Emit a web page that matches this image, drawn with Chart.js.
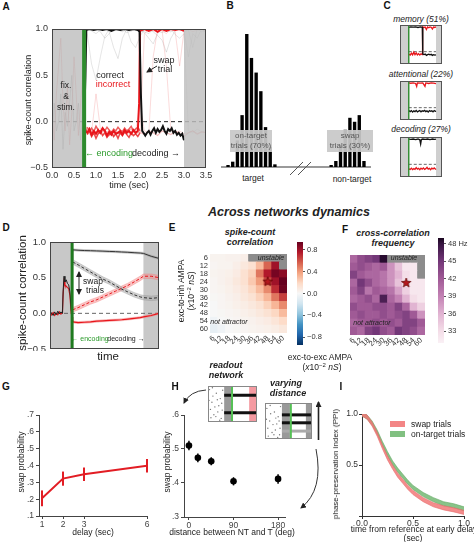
<!DOCTYPE html>
<html>
<head>
<meta charset="utf-8">
<script src="https://cdn.jsdelivr.net/npm/chart.js@4.4.1/dist/chart.umd.min.js"></script>
<style>
html, body { margin: 0; padding: 0; background: #fff; }
#fig { position: relative; width: 474px; height: 542px; overflow: hidden; background: #fff; }
#fig canvas { position: absolute; }
.t { position: absolute; white-space: nowrap; font-family: "Liberation Sans", Arial, sans-serif; font-size: 9px; color: #222; line-height: 1; }
.lt { font-weight: bold; font-size: 10px; color: #111; }
.it { font-style: italic; }
.bi { font-weight: bold; font-style: italic; }
.s8 { font-size: 8.5px; }
.s75 { font-size: 8px; }
.s7 { font-size: 7px; }
.big { font-size: 11.5px; }
.title { font-weight: bold; font-style: italic; font-size: 12.5px; }
.red { color: #e8151b; }
.green { color: #2a9a2a; }
.sw { position: absolute; }
.box { position: absolute; background: rgba(200,200,200,0.93); font-family: "Liberation Sans", Arial, sans-serif; font-size: 8px; color: #555; text-align: center; line-height: 10px; }
svg { position: absolute; left: 0; top: 0; }
</style>
</head>
<body>
<div id="fig"></div>
<script>
// ---------- data ----------
// A: single-trial spike-count correlation
const shadeA = [[0, 0.73], [3.0, 3.5]];
const cueA = 0.73;
const swapBlack = [[0.73,0.0],[0.76,0.5],[0.78,0.99],[0.85,1.0],[0.95,0.99],[1.05,1.0],[1.15,0.99],[1.25,1.0],[1.35,0.98],[1.45,1.0],[1.55,0.99],[1.65,1.0],[1.75,0.99],[1.85,1.0],[1.95,0.99],[1.99,0.97],[2.02,0.3],[2.05,-0.1],[2.08,-0.12],[2.12,-0.15],[2.16,-0.12],[2.2,-0.1],[2.24,-0.14],[2.28,-0.1],[2.32,-0.07],[2.36,-0.12],[2.4,-0.08],[2.44,-0.11],[2.48,-0.09],[2.52,-0.05],[2.56,-0.1],[2.6,-0.13],[2.64,-0.08],[2.68,-0.1],[2.72,-0.07],[2.76,-0.12],[2.8,-0.1],[2.84,-0.14],[2.88,-0.12],[2.92,-0.15],[2.96,-0.13],[3.0,-0.2]];
const incorrectRed = [[0.73,0.0],[0.77,-0.1],[0.8,-0.12],[0.85,-0.08],[0.9,-0.14],[0.95,-0.1],[1.0,-0.13],[1.05,-0.09],[1.1,-0.12],[1.15,-0.07],[1.2,-0.1],[1.25,-0.15],[1.3,-0.11],[1.35,-0.14],[1.4,-0.1],[1.45,-0.13],[1.5,-0.12],[1.55,-0.1],[1.6,-0.14],[1.65,-0.09],[1.7,-0.12],[1.75,-0.1],[1.8,-0.13],[1.85,-0.09],[1.9,-0.12],[1.95,-0.1],[1.98,0.2],[2.0,0.98],[2.1,1.0],[2.2,0.98],[2.3,1.0],[2.4,0.97],[2.5,1.0],[2.6,0.98],[2.7,1.0],[2.8,0.99],[2.9,1.0],[3.0,0.98]];
const tFaintA = [0.8,0.9,1.0,1.1,1.2,1.3,1.4,1.5,1.6,1.7,1.8,1.9,2.0,2.1,2.2,2.3,2.4,2.5,2.6,2.7,2.8,2.9,3.0,3.1,3.2,3.3,3.4,3.5];
const grayTrace1 = [1.0,0.98,0.95,0.99,1.0,0.97,0.8,0.68,0.9,1.0,0.98,1.0,0.99,0.96,0.9,0.84,0.95,1.0,0.98,0.97,1.0,0.99,0.98,0.7,0.95,0.9,1.0,0.96];
const grayTrace2 = [0.99,1.0,1.0,0.97,0.9,0.95,1.0,0.99,0.97,1.0,0.86,0.8,0.92,1.0,0.99,0.97,0.93,0.88,0.75,0.9,0.98,1.0,0.97,0.99,0.8,1.0,0.97,0.99];
const grayTrace3 = [0.95,0.62,0.45,0.7,0.92,1.0,0.98,0.99,1.0,0.96,0.98,1.0,0.99,0.97,0.95,1.0,0.98,0.96,0.99,1.0,0.94,0.9,0.95,-0.1,-0.12,-0.08,-0.11,-0.1];
const pinkTrace1 = [-0.1,-0.12,0.3,-0.08,-0.12,-0.1,-0.14,-0.1,-0.12,-0.11,-0.13,-0.1,-0.12,0.95,1.0,0.98,0.97,0.99,0.6,-0.1,-0.12,-0.1,-0.13,-0.12,-0.1,-0.14,-0.11,-0.12];
const pinkTrace2 = [-0.12,-0.15,-0.1,-0.13,-0.1,-0.12,-0.16,-0.11,-0.09,-0.14,-0.12,-0.1,0.2,-0.1,-0.12,0.7,1.0,0.98,0.95,1.0,0.97,0.6,0.98,1.0,0.97,0.99,1.0,0.98];
const pinkTrace3 = [-0.08,-0.1,-0.14,-0.12,-0.09,-0.15,-0.1,-0.12,-0.14,-0.1,-0.08,-0.13,-0.11,-0.14,-0.1,-0.12,-0.15,-0.1,-0.12,-0.14,-0.1,-0.13,-0.16,-0.12,-0.1,-0.13,-0.11,-0.12];
const tBandA = [0.8,0.85,0.9,0.95,1.0,1.05,1.1,1.15,1.2,1.25,1.3,1.35,1.4,1.45,1.5,1.55,1.6,1.65,1.7,1.75,1.8,1.85,1.9,1.95,2.0];
const redBand1 = [-0.14,-0.1,-0.16,-0.12,-0.18,-0.13,-0.1,-0.15,-0.12,-0.17,-0.14,-0.11,-0.16,-0.13,-0.18,-0.12,-0.15,-0.11,-0.14,-0.17,-0.12,-0.15,-0.13,-0.16,-0.12];
const redBand2 = [-0.06,-0.1,-0.07,-0.11,-0.05,-0.09,-0.12,-0.07,-0.1,-0.06,-0.09,-0.12,-0.08,-0.1,-0.06,-0.09,-0.11,-0.07,-0.1,-0.08,-0.05,-0.1,-0.08,-0.06,-0.1];
const tPreA = [0,0.05,0.1,0.15,0.2,0.25,0.3,0.35,0.4,0.45,0.5,0.55,0.6,0.65,0.7,0.75];
const prePink = [0.1,-0.2,0.3,0.6,0.9,0.2,-0.1,0.4,-0.25,0.1,0.7,0.3,-0.15,0.2,0.5,0.0];
const preGray = [-0.2,0.2,-0.1,0.0,0.3,-0.3,0.1,-0.05,0.2,0.5,-0.1,0.0,0.2,-0.2,0.1,0.0];

// B: histogram of reported positions
const targetBins = [1.5,4,20,39,100,82,71,57,30,15,2];
const swapBins = [1.5,4.5,16,28,37,34,39,4.5];

// C: example trial types
const memBlack = [[0.73,0.98],[0.9,1.0],[1.1,0.99],[1.3,1.0],[1.5,0.98],[1.7,1.0],[1.86,0.99],[1.9,-0.1],[2.0,-0.12],[2.1,-0.1],[2.2,-0.15],[2.3,-0.12],[2.4,-0.1],[2.5,-0.13],[2.6,-0.11],[2.7,-0.15],[2.8,-0.12],[2.9,-0.14],[3.0,-0.13]];
const memRed = [[0.73,-0.1],[0.85,-0.14],[0.95,-0.06],[1.05,-0.13],[1.15,-0.02],[1.25,-0.12],[1.35,-0.05],[1.45,-0.13],[1.55,-0.08],[1.65,-0.14],[1.75,-0.09],[1.86,-0.12],[1.88,1.0],[2.0,0.98],[2.1,1.0],[2.2,0.9],[2.3,1.0],[2.4,0.97],[2.5,1.0],[2.6,0.99],[2.7,0.92],[2.8,1.0],[2.9,0.98],[3.0,1.0]];
const attRed = [[0.73,1.0],[0.9,0.99],[1.1,1.0],[1.3,0.98],[1.39,0.86],[1.45,1.0],[1.7,0.99],[1.9,1.0],[2.08,0.86],[2.15,1.0],[2.4,0.98],[2.6,1.0],[2.8,0.99],[3.0,0.97]];
const attBlack = [[0.73,-0.12],[0.85,-0.16],[0.95,-0.12],[1.05,-0.18],[1.15,-0.13],[1.25,-0.16],[1.35,-0.11],[1.45,-0.17],[1.55,-0.14],[1.65,-0.12],[1.75,-0.17],[1.85,-0.13],[1.95,-0.15],[2.05,-0.11],[2.15,-0.16],[2.25,-0.13],[2.35,-0.18],[2.45,-0.12],[2.55,-0.15],[2.65,-0.13],[2.75,-0.17],[2.85,-0.12],[2.95,-0.15],[3.0,-0.14]];
const decBlack = [[0.73,1.0],[0.9,0.99],[1.1,1.0],[1.3,0.98],[1.5,1.0],[1.65,0.97],[1.72,0.8],[1.78,0.98],[1.9,1.0],[2.1,0.99],[2.3,1.0],[2.5,0.98],[2.7,1.0],[2.9,0.99],[3.0,1.0]];
const decRed = [[0.73,-0.18],[0.85,-0.2],[0.95,-0.15],[1.05,-0.21],[1.15,-0.17],[1.25,-0.2],[1.35,-0.13],[1.45,-0.19],[1.55,-0.16],[1.65,-0.21],[1.75,-0.15],[1.85,-0.19],[1.95,-0.14],[2.05,-0.2],[2.15,-0.17],[2.25,-0.12],[2.35,-0.19],[2.45,-0.16],[2.55,-0.21],[2.65,-0.15],[2.75,-0.18],[2.85,-0.14],[2.95,-0.19],[3.0,-0.17]];

// D: trial-averaged correlations across networks
const shadeD = [[0, 0.71], [3.0, 3.5]];
const cueD = 0.71;
const dPreBlack = [[0,0.03],[0.05,0.0],[0.1,-0.03],[0.15,0.02],[0.2,-0.02],[0.25,0.03],[0.3,-0.01],[0.35,0.02],[0.4,0.0],[0.42,0.3],[0.45,0.52],[0.48,0.44],[0.52,0.47],[0.56,0.42],[0.6,0.4],[0.64,0.3],[0.68,0.05],[0.7,0.0],[0.72,0.75],[0.73,0.9]];
const dPreRed = [[0,0.02],[0.05,-0.02],[0.1,0.01],[0.15,-0.03],[0.2,0.0],[0.25,-0.02],[0.3,0.02],[0.35,-0.01],[0.4,0.01],[0.42,0.25],[0.45,0.45],[0.48,0.4],[0.52,0.38],[0.56,0.36],[0.6,0.35],[0.64,0.25],[0.68,0.0],[0.72,-0.05],[0.73,-0.12]];
const tD = [0.73,0.9,1.1,1.3,1.5,1.7,1.9,2.1,2.3,2.5,2.7,2.9,3.0,3.25,3.5];
const correctBlack = [0.89,0.885,0.88,0.878,0.875,0.872,0.868,0.865,0.86,0.856,0.85,0.845,0.84,0.8,0.77];
const swapBlackD = [0.72,0.68,0.63,0.58,0.53,0.48,0.44,0.39,0.34,0.3,0.26,0.23,0.22,0.21,0.22];
const swapRedD = [0.05,0.08,0.12,0.16,0.19,0.23,0.27,0.31,0.35,0.39,0.44,0.49,0.52,0.52,0.5];
const correctRed = [-0.12,-0.13,-0.125,-0.12,-0.11,-0.105,-0.1,-0.095,-0.09,-0.08,-0.07,-0.06,-0.05,-0.03,0.0];
const errCorrectD = 0.014;
const errSwapD = 0.032;

// E, F: parameter sweeps (rows: exc-to-inh, cols: exc-to-exc)
const gainLabels = [6,12,18,24,30,36,42,48,54,60];
const corrE = [
  [0.03,0.03,0.04,0.04,0.06,null,null,null,null,null],
  [0.02,0.03,0.03,0.06,0.1,0.15,0.3,0.55,0.8,null],
  [0.03,0.04,0.05,0.08,0.15,0.22,0.5,0.75,0.9,0.85],
  [0.02,0.04,0.06,0.1,0.15,0.25,0.4,0.62,0.8,0.95],
  [0.02,0.03,0.05,0.08,0.12,0.2,0.3,0.45,0.7,0.92],
  [0.01,0.02,0.04,0.06,0.1,0.14,0.22,0.32,0.5,0.65],
  [0.0,0.02,0.03,0.05,0.07,0.1,0.14,0.22,0.32,0.45],
  [0.0,0.01,0.02,0.03,0.05,0.07,0.1,0.14,0.2,0.3],
  [-0.04,0.0,0.01,0.02,0.03,0.04,0.06,0.08,0.12,0.18],
  [-0.08,-0.04,0.0,0.01,0.02,0.03,0.04,0.05,0.07,0.1]
];
const freqF = [
  [41,43,44,45,48.5,null,null,null,null,null],
  [42,43,42,41,42,38,35,32,32,null],
  [44,42,41,41,40,38,36,33,32,null],
  [41,45,43,41,40,38,35,33,32,32],
  [42,44,40,42,41,40,37,34,32,32],
  [41,42,43,41,47,41,39,36,33,32],
  [43,42,42,43,43,42,44,41,36,34],
  [42,43,42,42,43,42,43,44,42,38],
  [41,42,42,43,42,43,42,44,44,42],
  [42,41,44,45,43,42,45,44,43,41]
];
const starE = {x: 48, y: 24};
const starF = {x: 48, y: 24};
const rangeE = [-0.94, 0.94];
const rangeF = [31, 49];
const cbTicksE = [-0.8, -0.4, 0, 0.4, 0.8];
const cbTicksF = [33, 36, 39, 42, 45, 48];

// G: swap probability vs delay
const delaysG = [1, 2, 3, 6];
const swapG = [0.205, 0.322, 0.348, 0.398];
const swapErrG = [0.047, 0.042, 0.04, 0.04];
const yTicksG = [0.1, 0.2, 0.3, 0.4, 0.5, 0.6, 0.7];

// H: swap probability vs NT-T distance
const distH = [0, 18, 45, 90, 180];
const swapH = [0.51, 0.474, 0.464, 0.405, 0.412];
const swapErrH = [0.014, 0.013, 0.012, 0.012, 0.014];
const xTicksH = [0, 90, 180];
const yTicksH = [0.3, 0.4, 0.5, 0.6];
const inset1Dots = [[0.03,0.9],[0.08,0.55],[0.12,0.2],[0.05,0.35],[0.17,0.8],[0.22,0.45],[0.27,0.1],[0.25,0.65],[0.1,0.72],[0.2,0.28],[0.3,0.88],[0.14,0.42],[0.06,0.12],[0.28,0.52],[0.19,0.62],[0.09,0.95],[0.24,0.05],[0.02,0.6],[0.16,0.15],[0.29,0.33]];
const inset2Dots = [[0.04,0.85],[0.1,0.5],[0.15,0.18],[0.06,0.3],[0.2,0.75],[0.25,0.42],[0.31,0.12],[0.28,0.62],[0.12,0.7],[0.22,0.25],[0.33,0.9],[0.17,0.4],[0.07,0.08],[0.3,0.5],[0.23,0.58],[0.11,0.93],[0.27,0.04],[0.03,0.55],[0.19,0.12],[0.32,0.3]];

// I: phase-preservation index
const tI = [0,0.05,0.1,0.15,0.2,0.25,0.3,0.35,0.4,0.45,0.5,0.6,0.7,0.8,0.9,1.0];
const ppiSwap = [1.0,0.97,0.9,0.8,0.68,0.57,0.48,0.4,0.34,0.28,0.23,0.16,0.11,0.08,0.06,0.035];
const ppiTarget = [1.0,0.97,0.91,0.82,0.71,0.61,0.52,0.45,0.39,0.33,0.28,0.21,0.16,0.12,0.1,0.07];
const ppiErr = 0.02;

// ---------- setup ----------
Chart.defaults.font.family = '"Liberation Sans", Arial, sans-serif';
Chart.defaults.font.size = 9;
Chart.defaults.color = '#333';
Chart.defaults.animation = false;
Chart.defaults.responsive = false;
Chart.defaults.maintainAspectRatio = false;
Chart.defaults.events = [];
Chart.defaults.plugins.legend.display = false;
Chart.defaults.plugins.tooltip.enabled = false;
Chart.defaults.elements.point.radius = 0;
Chart.defaults.elements.line.tension = 0;

const fig = document.getElementById('fig');
const pairs = a => a.map(([x, y]) => ({x, y}));
const zip = (xs, ys) => xs.map((x, i) => ({x, y: ys[i]}));
const minus = s => String(s).replace('-', '\u2212');
const zeroPad = s => { s.paddingLeft = 0; s.paddingRight = 0; s.paddingTop = 0; s.paddingBottom = 0; };

function trace(data, color, width, dash) {
  return {data, borderColor: color, borderWidth: width, borderDash: dash || [], pointRadius: 0, fill: false};
}
function band(xs, mean, err, fillColor, edgeColor) {
  return [
    {data: zip(xs, mean.map(v => v - err)), borderColor: edgeColor, borderWidth: 0.6, pointRadius: 0, fill: false},
    {data: zip(xs, mean.map(v => v + err)), borderColor: edgeColor, borderWidth: 0.6, pointRadius: 0, fill: '-1', backgroundColor: fillColor}
  ];
}

// decorations drawn through the chart's scales
function decor(o) {
  const drawSpans = ch => {
    const {ctx, chartArea: a, scales: {x}} = ch;
    (o.spans || []).forEach(([x0, x1, c]) => {
      const p0 = Math.max(a.left, x.getPixelForValue(x0)), p1 = Math.min(a.right, x.getPixelForValue(x1));
      ctx.fillStyle = c;
      ctx.fillRect(p0, a.top, p1 - p0, a.height);
    });
  };
  return {
    id: 'decor',
    beforeDatasetsDraw(ch) {
      const {ctx, chartArea: a, scales: {x, y}} = ch;
      ctx.save();
      if (o.bg) { ctx.fillStyle = o.bg; ctx.fillRect(a.left, a.top, a.width, a.height); }
      if (!o.spansOnTop) drawSpans(ch);
      (o.hlines || []).forEach(([v, x0, x1, c, w, d]) => {
        const py = y.getPixelForValue(v);
        ctx.beginPath(); ctx.setLineDash(d || []); ctx.strokeStyle = c; ctx.lineWidth = w;
        ctx.moveTo(Math.max(a.left, x.getPixelForValue(x0)), py);
        ctx.lineTo(Math.min(a.right, x.getPixelForValue(x1)), py);
        ctx.stroke();
      });
      ctx.restore();
    },
    afterDatasetsDraw(ch) {
      const {ctx, chartArea: a, scales: {x, y}} = ch;
      ctx.save();
      if (o.spansOnTop) drawSpans(ch);
      (o.vlines || []).forEach(([v, c, w]) => {
        const p = x.getPixelForValue(v);
        ctx.fillStyle = c; ctx.fillRect(p - w / 2, a.top, w, a.height);
      });
      if (o.err) {
        const e = o.err;
        ctx.strokeStyle = e.color; ctx.lineWidth = e.width;
        e.x.forEach((xv, i) => {
          const px = x.getPixelForValue(xv);
          ctx.beginPath();
          ctx.moveTo(px, y.getPixelForValue(e.y[i] - e.e[i]));
          ctx.lineTo(px, y.getPixelForValue(e.y[i] + e.e[i]));
          ctx.stroke();
        });
      }
      if (o.frame) {
        ctx.strokeStyle = o.frame; ctx.lineWidth = 1;
        ctx.strokeRect(a.left + 0.5, a.top + 0.5, a.width - 1, a.height - 1);
      }
      ctx.restore();
    }
  };
}

function makeChart(g, cfg) {
  const yw = g.yw || 0, xh = g.xh || 0, pt = g.pt || 0, pr = g.pr || 0, pb = g.pb || 0, pl = g.pl || 0;
  const left = g.yRight ? g.L - pl : g.L - yw - pl;
  const right = g.yRight ? g.R + yw + pr : g.R + pr;
  const top = g.T - pt, bottom = g.B + xh + pb;
  const cv = document.createElement('canvas');
  const w = right - left, h = bottom - top;
  cv.width = w; cv.height = h;
  cv.style.left = left + 'px'; cv.style.top = top + 'px';
  cv.style.width = w + 'px'; cv.style.height = h + 'px';
  fig.appendChild(cv);
  cfg.options.layout = {padding: {left: pl, right: pr, top: pt, bottom: pb}};
  const sx = cfg.options.scales.x, sy = cfg.options.scales.y;
  if (sx.display !== false) sx.afterFit = s => { s.height = xh; zeroPad(s); };
  if (sy.display !== false) sy.afterFit = s => { s.width = yw; zeroPad(s); };
  return new Chart(cv, cfg);
}

const noGrid = {display: false, drawTicks: false};
const hidden = {display: false};

// ---------- A ----------
makeChart({L: 52, T: 29, R: 206, B: 168, yw: 44, xh: 14, pt: 8, pr: 8}, {
  type: 'line',
  data: {datasets: [
    trace(pairs(swapBlack), '#111', 2),
    trace(pairs(incorrectRed), '#e8151b', 2),
    trace(zip(tBandA, redBand1), 'rgba(230,25,25,0.8)', 1.5),
    trace(zip(tBandA, redBand2), 'rgba(230,25,25,0.7)', 1.5),
    trace(zip(tFaintA, pinkTrace1), 'rgba(235,90,90,0.22)', 1),
    trace(zip(tFaintA, pinkTrace2), 'rgba(235,90,90,0.22)', 1),
    trace(zip(tFaintA, pinkTrace3), 'rgba(235,90,90,0.4)', 1.2),
    trace(zip(tFaintA, grayTrace1), 'rgba(130,130,130,0.22)', 1),
    trace(zip(tFaintA, grayTrace2), 'rgba(130,130,130,0.22)', 1),
    trace(zip(tFaintA, grayTrace3), 'rgba(130,130,130,0.2)', 1),
    trace(zip(tPreA, prePink), 'rgba(235,90,90,0.45)', 1),
    trace(zip(tPreA, preGray), 'rgba(120,120,120,0.45)', 1)
  ]},
  options: {scales: {
    x: {type: 'linear', min: 0, max: 3.5, grid: noGrid, border: hidden,
        ticks: {stepSize: 0.5, padding: 2, font: {size: 9}, callback: v => v.toFixed(1)}},
    y: {min: -0.5, max: 1.0, grid: noGrid, border: hidden,
        ticks: {stepSize: 0.5, padding: 4, font: {size: 9}, callback: v => minus(v.toFixed(1))}}
  }},
  plugins: [decor({spans: shadeA.map(s => [s[0], s[1], 'rgba(190,190,190,0.82)']), spansOnTop: true,
    hlines: [[0, 0, 3.5, '#222', 1, [4, 3]]], vlines: [[cueA, '#2e8b2e', 4]], frame: '#444'})]
});

// ---------- B ----------
const slotsB = new Array(32).fill(null);
targetBins.forEach((v, i) => { slotsB[1 + i] = v; });
swapBins.forEach((v, i) => { slotsB[23 + i] = v; });
makeChart({L: 221, T: 34, R: 371, B: 167, xh: 2}, {
  type: 'bar',
  data: {labels: slotsB.map(() => ''), datasets: [{data: slotsB, backgroundColor: '#000', barPercentage: 0.72, categoryPercentage: 1}]},
  options: {scales: {
    x: {grid: noGrid, ticks: {display: false}, border: {display: true, color: '#9a9a9a', width: 2}},
    y: {display: false, min: 0, max: 100}
  }}
});

// ---------- C ----------
const miniC = [
  {T: 25, B: 64, black: memBlack, red: memRed},
  {T: 81, B: 120, black: attBlack, red: attRed},
  {T: 137, B: 177, black: decBlack, red: decRed}
];
miniC.forEach(m => {
  makeChart({L: 400, T: m.T, R: 442, B: m.B, pt: 1, pb: 1, pl: 1, pr: 1}, {
    type: 'line',
    data: {datasets: [trace(pairs(m.black), '#111', 1.3), trace(pairs(m.red), '#e8151b', 1.3)]},
    options: {scales: {x: {type: 'linear', display: false, min: 0, max: 3.5}, y: {display: false, min: -0.5, max: 1.08}}},
    plugins: [decor({spans: shadeA.map(s => [s[0], s[1], '#cfcfcf']), hlines: [[0, 0.73, 3.0, '#444', 0.8, [3, 2]]],
      vlines: [[cueA, '#2e8b2e', 1.4]], frame: '#555'})]
  });
});

// ---------- D ----------
makeChart({L: 50, T: 242, R: 159, B: 349, yw: 40, pt: 8, pr: 4, pb: 2}, {
  type: 'line',
  data: {datasets: [
    trace(zip(tD, correctBlack), '#333', 1),
    trace(zip(tD, swapBlackD), '#333', 1, [3, 2]),
    trace(zip(tD, swapRedD), '#e8151b', 1, [3, 2]),
    trace(zip(tD, correctRed), '#e8151b', 1.2),
    trace(pairs(dPreBlack), '#222', 1),
    trace(pairs(dPreRed), '#d8141a', 1.2),
    ...band(tD, correctBlack, errCorrectD, 'rgba(170,170,170,0.55)', 'rgba(150,150,150,0.6)'),
    ...band(tD, swapBlackD, errSwapD, 'rgba(170,170,170,0.55)', 'rgba(150,150,150,0.6)'),
    ...band(tD, swapRedD, errSwapD, 'rgba(245,140,140,0.5)', 'rgba(240,120,120,0.6)'),
    ...band(tD, correctRed, errCorrectD, 'rgba(245,140,140,0.5)', 'rgba(240,120,120,0.6)')
  ]},
  options: {scales: {
    x: {type: 'linear', display: false, min: 0, max: 3.5},
    y: {min: -0.5, max: 1.0, grid: noGrid, border: hidden,
        ticks: {stepSize: 0.5, padding: 4, font: {size: 9.5}, callback: v => minus(v.toFixed(1))}}
  }},
  plugins: [decor({spans: shadeD.map(s => [s[0], s[1], '#c8c8c8']), hlines: [[0, 0, 3.5, '#666', 1, [4, 3]]],
    vlines: [[cueD, '#1f7a1f', 3]], frame: '#444'})]
});

// ---------- colour maps ----------
const rdbu = [[0,[5,48,97]],[0.1,[33,102,172]],[0.2,[67,147,195]],[0.3,[146,197,222]],[0.4,[209,229,240]],[0.5,[247,247,247]],[0.6,[253,219,199]],[0.7,[244,165,130]],[0.8,[214,96,77]],[0.9,[178,24,43]],[1,[103,0,31]]];
const purp = [[0,[250,240,245]],[0.111,[244,222,232]],[0.278,[225,180,210]],[0.444,[195,130,180]],[0.611,[160,90,150]],[0.778,[115,55,120]],[0.944,[55,20,65]],[1,[25,5,30]]];
function colorAt(stops, t) {
  t = Math.max(0, Math.min(1, t));
  for (let i = 1; i < stops.length; i++) {
    if (t <= stops[i][0]) {
      const [t0, c0] = stops[i - 1], [t1, c1] = stops[i];
      const f = (t - t0) / (t1 - t0);
      return 'rgb(' + c0.map((c, k) => Math.round(c + f * (c1[k] - c))).join(',') + ')';
    }
  }
  return 'rgb(' + stops[stops.length - 1][1].join(',') + ')';
}
const colorE = v => colorAt(rdbu, (v - rangeE[0]) / (rangeE[1] - rangeE[0]));
const colorF = v => colorAt(purp, (v - rangeF[0]) / (rangeF[1] - rangeF[0]));

function starImage(r) {
  const c = document.createElement('canvas');
  c.width = c.height = 2 * r + 2;
  const g = c.getContext('2d');
  g.beginPath();
  for (let i = 0; i < 10; i++) {
    const ang = -Math.PI / 2 + i * Math.PI / 5, rr = i % 2 ? r * 0.42 : r;
    g.lineTo(r + 1 + rr * Math.cos(ang), r + 1 + rr * Math.sin(ang));
  }
  g.closePath();
  g.fillStyle = '#b3181f'; g.fill();
  g.strokeStyle = '#5a0000'; g.lineWidth = 0.7; g.stroke();
  return c;
}
const star = starImage(5);

function heatConfig(mat, colorFn, starPos, showY) {
  const rows = mat.map(row => ({
    data: row.map(() => 1),
    backgroundColor: row.map(v => v === null ? '#8c8c8c' : colorFn(v)),
    borderWidth: 0, barPercentage: 1, categoryPercentage: 1
  })).reverse();
  const starSet = {type: 'line', showLine: false, order: -1, pointStyle: star, pointRadius: 5,
    data: [{x: starPos.x, y: 9.5 - gainLabels.indexOf(starPos.y)}]};
  return {
    type: 'bar',
    data: {labels: gainLabels, datasets: [starSet, ...rows]},
    options: {scales: {
      x: {stacked: true, grid: noGrid, border: hidden,
          ticks: {font: {size: 7.5}, padding: 1, minRotation: 45, maxRotation: 45, autoSkip: false}},
      y: showY ? {stacked: true, min: 0, max: 10, grid: noGrid, border: hidden,
          afterBuildTicks: s => { s.ticks = gainLabels.map((_, i) => ({value: i + 0.5})); },
          ticks: {font: {size: 7.5}, padding: 2, autoSkip: false, callback: (v, i) => gainLabels[gainLabels.length - 1 - i]}}
        : {display: false, stacked: true, min: 0, max: 10}
    }}
  };
}

// ---------- E, F ----------
makeChart({L: 210, T: 253, R: 291, B: 333, yw: 16, xh: 16, pt: 5, pr: 2}, heatConfig(corrE, colorE, starE, true));
makeChart({L: 345, T: 253, R: 429, B: 335, xh: 16, pt: 4, pr: 2, pl: 1}, heatConfig(freqF, colorF, starF, false));

function colorbar(g, stops, range, ticks, fmt) {
  makeChart(g, {
    type: 'bar',
    data: {labels: [''], datasets: [{
      data: [[range[0], range[1]]], borderWidth: 0, barPercentage: 1, categoryPercentage: 1,
      backgroundColor: ctx => {
        const ch = ctx.chart, a = ch.chartArea;
        if (!a) return '#ccc';
        const ys = ch.scales.y;
        const gr = ch.ctx.createLinearGradient(0, ys.getPixelForValue(range[0]), 0, ys.getPixelForValue(range[1]));
        stops.forEach(([t, c]) => gr.addColorStop(t, 'rgb(' + c.join(',') + ')'));
        return gr;
      }
    }]},
    options: {scales: {
      x: {display: false},
      y: {position: 'right', min: range[0], max: range[1], border: hidden,
          grid: {display: true, drawOnChartArea: false, drawTicks: true, tickLength: 2, color: '#555'},
          afterBuildTicks: s => { s.ticks = ticks.map(v => ({value: v})); },
          ticks: {font: {size: 7.5}, padding: 2, callback: fmt}}
    }}
  });
}
colorbar({L: 297, T: 242, R: 303, B: 345, yw: 24, pt: 4, pb: 4, yRight: true}, rdbu, rangeE, cbTicksE, v => minus(v.toFixed(1)));
colorbar({L: 438, T: 238, R: 444, B: 343, yw: 30, pt: 4, pb: 4, yRight: true}, purp, rangeF, cbTicksF, v => v === 48 ? '48 Hz' : String(v));

// ---------- G ----------
const tickGrid = {display: true, drawOnChartArea: false, drawTicks: true, tickLength: 3, color: '#444'};
makeChart({L: 39, T: 415, R: 147, B: 516, yw: 23, xh: 12, pt: 6, pr: 8}, {
  type: 'line',
  data: {datasets: [trace(zip(delaysG, swapG), '#e21d24', 2)]},
  options: {scales: {
    x: {type: 'linear', min: 0.857, max: 6, grid: tickGrid, border: {color: '#444'},
        afterBuildTicks: s => { s.ticks = delaysG.map(v => ({value: v})); },
        ticks: {font: {size: 8.5}, color: '#444', padding: 1}},
    y: {min: 0.1, max: 0.7, grid: tickGrid, border: {color: '#444'},
        afterBuildTicks: s => { s.ticks = yTicksG.map(v => ({value: v})); },
        ticks: {font: {size: 8.5}, color: '#444', padding: 2, callback: v => '.' + Math.round(v * 10)}}
  }},
  plugins: [decor({err: {x: delaysG, y: swapG, e: swapErrG, color: '#e21d24', width: 2}})]
});

// ---------- H ----------
makeChart({L: 184, T: 415, R: 285, B: 517, yw: 22, xh: 12, pt: 6, pr: 6}, {
  type: 'scatter',
  data: {datasets: [{data: zip(distH, swapH), backgroundColor: '#000', pointRadius: 3.3, borderWidth: 0}]},
  options: {scales: {
    x: {type: 'linear', min: -10, max: 194, grid: tickGrid, border: {color: '#444'},
        afterBuildTicks: s => { s.ticks = xTicksH.map(v => ({value: v})); },
        ticks: {font: {size: 8.5}, color: '#444', padding: 1}},
    y: {min: 0.3, max: 0.6, grid: tickGrid, border: {color: '#444'},
        afterBuildTicks: s => { s.ticks = yTicksH.map(v => ({value: v})); },
        ticks: {font: {size: 8.5}, color: '#444', padding: 2, callback: v => '.' + Math.round(v * 10)}}
  }},
  plugins: [decor({err: {x: distH, y: swapH, e: swapErrH, color: '#000', width: 1.5}})]
});

// H insets
function inset(g, dots, spans, cue, bumps) {
  makeChart(Object.assign({pt: 1, pb: 1, pl: 1, pr: 1}, g), {
    type: 'line',
    data: {datasets: [
      ...bumps.map(([y, c]) => trace([{x: spans[0][0], y}, {x: 1, y}], c, 3)),
      {type: 'scatter', data: pairs(dots), backgroundColor: '#777', pointRadius: 0.7, borderWidth: 0}
    ]},
    options: {scales: {x: {type: 'linear', display: false, min: 0, max: 1}, y: {display: false, min: 0, max: 1}}},
    plugins: [decor({bg: '#fff', spans, vlines: [[cue, '#55c055', 2]], frame: '#888'})]
  });
}
inset({L: 205, T: 383, R: 260, B: 425}, inset1Dots,
  [[0.33, 0.47, '#999'], [0.84, 1.0, 'rgba(240,120,130,0.75)']], 0.49, [[0.74, '#111'], [0.26, '#111']]);
inset({L: 262, T: 400, R: 315, B: 442}, inset2Dots,
  [[0.36, 0.53, '#999'], [0.87, 1.0, '#999']], 0.55, [[0.67, '#111'], [0.45, '#111'], [0.22, '#aaa']]);

// ---------- I ----------
const tickGridI = {display: true, drawOnChartArea: false, drawTicks: true, tickLength: 3, color: '#333'};
makeChart({L: 362, T: 414, R: 464, B: 516, yw: 20, xh: 11, pt: 7, pr: 10}, {
  type: 'line',
  data: {datasets: [
    ...band(tI, ppiSwap, ppiErr, 'rgba(242,120,120,0.85)', '#e56a6a'),
    ...band(tI, ppiTarget, ppiErr, 'rgba(115,185,115,0.85)', '#62a862')
  ]},
  options: {scales: {
    x: {type: 'linear', min: 0, max: 1, grid: tickGridI, border: {color: '#333'},
        ticks: {stepSize: 0.5, font: {size: 8.5}, color: '#333', padding: 0, callback: v => v.toFixed(1)}},
    y: {type: 'linear', min: 0, max: 1, grid: tickGridI, border: {color: '#333', width: 1},
        ticks: {stepSize: 0.5, font: {size: 8.5}, color: '#333', padding: 1, callback: v => (v > 0 ? v.toFixed(1) : '')}}
  }}
});

// ---------- text ----------
const sup = '(<i>x</i>10<span style="font-size:6px;position:relative;top:-3px">\u22122</span> <i>nS</i>)';
const texts = [
  [6, 7, 'A', 'lt'], [230, 6, 'B', 'lt'], [387, 6, 'C', 'lt'], [6, 228, 'D', 'lt'], [172, 228, 'E', 'lt'],
  [345, 230, 'F', 'lt'], [6, 387, 'G', 'lt'], [175, 387, 'H', 'lt'], [341, 387, 'I', 'lt'],
  [28, 100, 'spike-count correlation', '', -90], [129, 185, 'time (sec)'],
  [66, 85, 'fix.', 's8'], [66, 96, '&amp;', 's8'], [66, 107, 'stim.', 's8'],
  [110, 75, 'correct'], [113, 84, 'incorrect', 'red'],
  [164, 60, 'swap'], [165, 69, 'trial'],
  [109, 153, '\u2190 encoding', 'green'], [156, 153, 'decoding \u2192'],
  [253, 178, 'target', 's8'], [352, 179, 'non-target', 's8'],
  [421, 19, 'memory (51%)', 'it s8'], [421, 74, 'attentional (22%)', 'it s8'], [421, 129, 'decoding (27%)', 'it s8'],
  [289, 212, 'Across networks dynamics', 'title'],
  [23, 293, 'spike-count correlation', 'big', -90], [108, 357, 'time', 'big'],
  [93, 281, 'swap', 's8'], [95, 290, 'trials', 's8'],
  [90, 338, '\u2190 encoding', 'green s7'], [126, 338, 'decoding \u2192', 's7'],
  [250, 232, 'spike-count', 'bi'], [250, 242, 'correlation', 'bi'],
  [393, 233, 'cross-correlation', 'bi'], [393, 243, 'frequency', 'bi'],
  [181, 291, 'exc-to-inh AMPA', 's8', -90], [191, 291, sup, 's8', -90],
  [271, 257, 'unstable', 'it s7'], [404, 257, 'unstable', 'it s7'],
  [229, 321, 'not attractor', 'it s7'], [372, 322, 'not attractor', 'it s7'],
  [320, 357, 'exc-to-exc AMPA', 's8'], [322, 367, sup, 's8'],
  [21, 462, 'swap probability', 's8', -90], [93, 532, 'delay (sec)', 's8'],
  [226, 365, 'readout', 'bi'], [226, 375, 'network', 'bi'],
  [286, 383, 'varying', 'bi'], [288, 393, 'distance', 'bi'],
  [167, 462, 'swap probability', 's8', -90], [232, 532, 'distance between NT and T (deg)', 's8'],
  [336, 464, 'phase-preservation index (PPI)', 's75', -90],
  [414, 529, 'time from reference at early delay', 's8'], [413, 538, '(sec)', 's8']
];
texts.forEach(([x, y, s, cls, rot]) => {
  const d = document.createElement('div');
  d.className = 't ' + (cls || '');
  d.innerHTML = s;
  d.style.left = x + 'px'; d.style.top = y + 'px';
  d.style.transform = 'translate(-50%,-50%)' + (rot ? ' rotate(' + rot + 'deg)' : '');
  fig.appendChild(d);
});
[[411, 424, 'swap trials'], [411, 434, 'on-target trials']].forEach(([x, y, s]) => {
  const d = document.createElement('div');
  d.className = 't s8'; d.textContent = s;
  d.style.left = x + 'px'; d.style.top = y + 'px'; d.style.transform = 'translateY(-50%)';
  fig.appendChild(d);
});
[[390, 421, 'rgba(242,120,120,0.9)'], [390, 431, 'rgba(115,185,115,0.9)']].forEach(([x, y, c]) => {
  const d = document.createElement('div');
  d.className = 'sw';
  Object.assign(d.style, {left: x + 'px', top: y + 'px', width: '15px', height: '6px', background: c});
  fig.appendChild(d);
});
[[230, 130, 42, 'on-target<br>trials (70%)'], [327, 130, 46, 'swap<br>trials (30%)']].forEach(([x, y, w, s]) => {
  const d = document.createElement('div');
  d.className = 'box'; d.innerHTML = s;
  Object.assign(d.style, {left: x + 'px', top: y + 'px', width: w + 'px', height: '21px', paddingTop: '1px'});
  fig.appendChild(d);
});

fig.insertAdjacentHTML('beforeend', `
<svg width="474" height="542" viewBox="0 0 474 542">
  <defs>
    <marker id="ah" markerWidth="6" markerHeight="6" refX="5" refY="3" orient="auto-start-reverse" markerUnits="userSpaceOnUse">
      <path d="M0,0 L6,3 L0,6 z" fill="#222"/>
    </marker>
  </defs>
  <line x1="157" y1="66" x2="147" y2="72" stroke="#222" stroke-width="1" marker-end="url(#ah)"/>
  <line x1="290" y1="175" x2="303" y2="162" stroke="#555" stroke-width="1"/>
  <line x1="298" y1="175" x2="311" y2="162" stroke="#555" stroke-width="1"/>
  <line x1="79" y1="272" x2="79" y2="294" stroke="#222" stroke-width="1" marker-start="url(#ah)" marker-end="url(#ah)"/>
  <path d="M206,390 Q190,391 184,403" fill="none" stroke="#333" stroke-width="1" marker-end="url(#ah)"/>
  <path d="M316,449 Q324,490 301,508" fill="none" stroke="#333" stroke-width="1" marker-end="url(#ah)"/>
  <rect x="317" y="402" width="3" height="38" fill="#bbb"/>
  <line x1="318.5" y1="440" x2="318.5" y2="402" stroke="#222" stroke-width="1" marker-end="url(#ah)"/>
</svg>`);
</script>
</body>
</html>
